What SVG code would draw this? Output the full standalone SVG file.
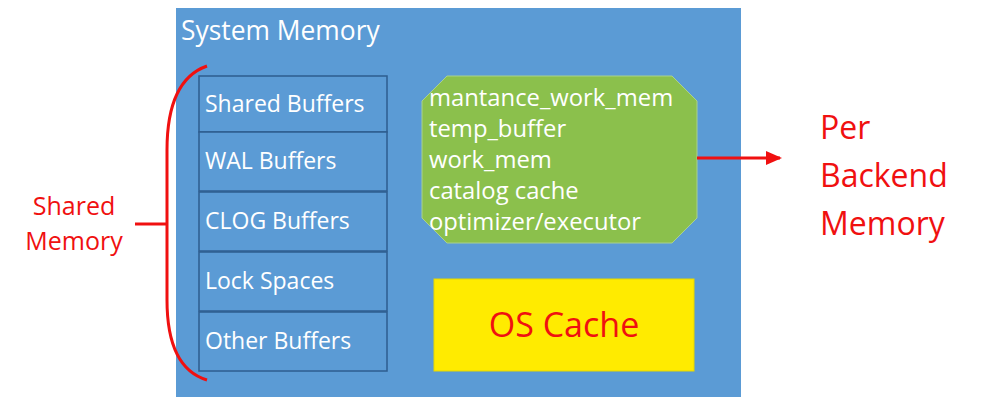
<svg xmlns="http://www.w3.org/2000/svg" width="985" height="409" viewBox="0 0 985 409">
<style>
text{font-family:"Open Sans","Liberation Sans",sans-serif;}
.w{fill:#fff}
.b{font-size:23px}
.r{fill:#f01010}
.buf{fill:#5b9bd5;stroke:#2e5d8f;stroke-width:1.5}
</style>
<defs><marker id="ah" markerWidth="16" markerHeight="14" refX="14" refY="7" orient="auto" markerUnits="userSpaceOnUse"><path d="M0,0 L16,7 L0,14 z" fill="#f01010"/></marker></defs>
<rect width="985" height="409" fill="#fff"/>
<g id="system"><rect x="176" y="8" width="565" height="389" fill="#5b9bd5"/>
<text class="w" x="181" y="40" font-size="26.4">System Memory</text></g>
<g id="shared-buffers"><rect class="buf" x="199" y="76" width="188" height="56"/><text class="w b" x="205" y="112">Shared Buffers</text></g>
<g id="wal-buffers"><rect class="buf" x="199" y="132" width="188" height="59"/><text class="w b" x="205" y="169">WAL Buffers</text></g>
<g id="clog-buffers"><rect class="buf" x="199" y="192" width="188" height="59"/><text class="w b" x="205" y="229">CLOG Buffers</text></g>
<g id="lock-spaces"><rect class="buf" x="199" y="252" width="188" height="59"/><text class="w b" x="205" y="289">Lock Spaces</text></g>
<g id="other-buffers"><rect class="buf" x="199" y="312" width="188" height="59"/><text class="w b" x="205" y="349">Other Buffers</text></g>
<g id="backend"><polygon points="447,76 672,76 697,101 697,218 672,243 447,243 422,218 422,101" fill="#8bc04c" stroke="#a9d18e" stroke-width="1"/>
<text class="w" font-size="23.8"><tspan x="429" y="106">mantance_work_mem</tspan><tspan x="429" y="137">temp_buffer</tspan><tspan x="429" y="168">work_mem</tspan><tspan x="429" y="199">catalog cache</tspan><tspan x="429" y="230">optimizer/executor</tspan></text></g>
<g id="os-cache"><rect x="434" y="279" width="260" height="92" fill="#ffeb00" stroke="#e6d800"/>
<text class="r" x="564" y="337" font-size="34" text-anchor="middle">OS Cache</text></g>
<g id="connectors">
<path d="M207,66 Q167,80 167,150 L167,300 Q167,368 207,380" fill="none" stroke="#f01010" stroke-width="3"/>
<line x1="135" y1="224" x2="167" y2="224" stroke="#f01010" stroke-width="3"/>
<line x1="697" y1="158" x2="780" y2="158" stroke="#f01010" stroke-width="3" marker-end="url(#ah)"/>
</g>
<g id="shared-memory-label"><text class="r" font-size="25" text-anchor="middle"><tspan x="74" y="215">Shared</tspan><tspan x="74" y="250">Memory</tspan></text></g>
<g id="per-backend-label"><text class="r" font-size="32"><tspan x="820" y="139">Per</tspan><tspan x="820" y="187">Backend</tspan><tspan x="820" y="235">Memory</tspan></text></g>
</svg>
